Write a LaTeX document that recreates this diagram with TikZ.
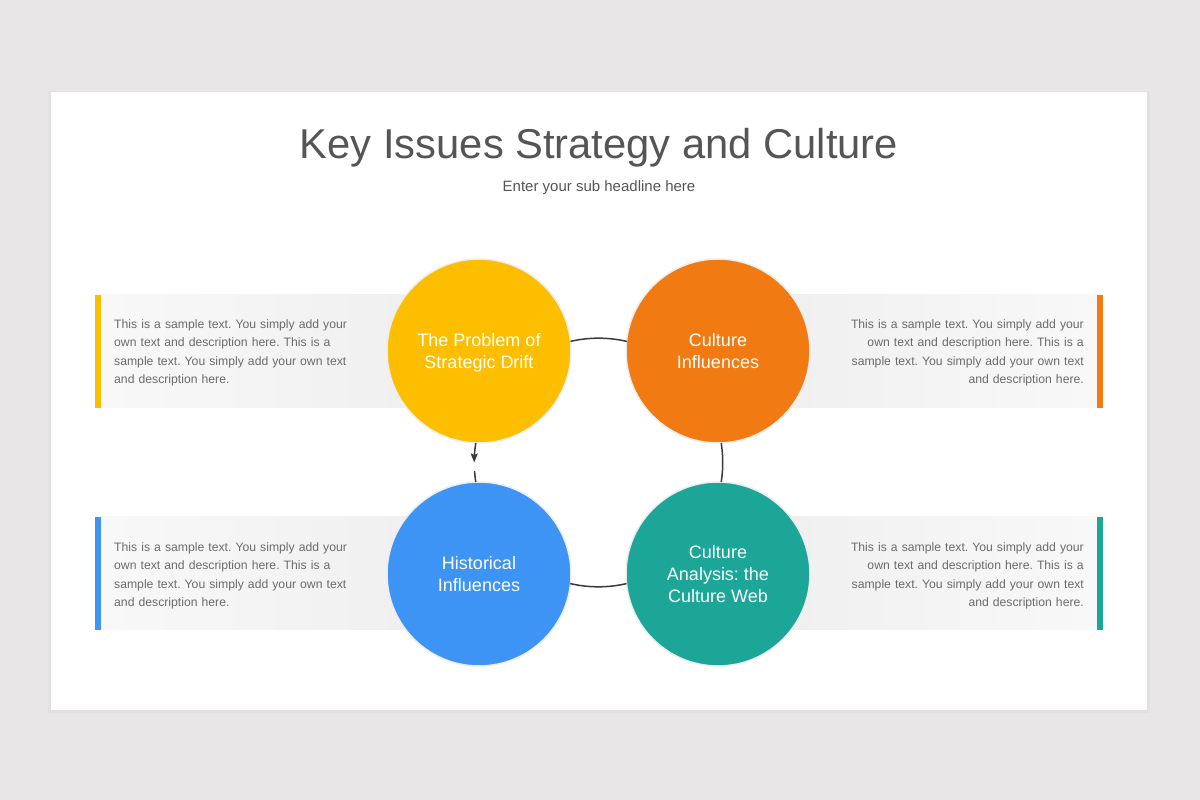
\documentclass[tikz,border=0pt]{standalone}
\usepackage{fontspec}
\setmainfont{Liberation Sans}
\frenchspacing
\usetikzlibrary{positioning,arrows.meta}
\definecolor{cbg}{HTML}{E8E6E7}
\definecolor{cpanel}{HTML}{EEEEEE}
\definecolor{ctitle}{HTML}{555555}
\definecolor{ctext}{HTML}{6B6B6B}
\definecolor{cline}{HTML}{3A3A3A}
\definecolor{cyellow}{HTML}{FDBE00}
\definecolor{corange}{HTML}{F27A12}
\definecolor{cblue}{HTML}{3D94F4}
\definecolor{cteal}{HTML}{1BA698}
\tikzset{
  bubble/.style={circle, minimum size=184pt, inner sep=0pt, outer sep=0pt,
    draw=black!7, line width=1.5pt, text=white, align=center, text depth=0pt,
    font=\fontsize{18}{22}\selectfont},
  desc/.style={text width=250pt, inner sep=0pt, text=ctext,
    font=\fontsize{12.2}{18.4}\selectfont},
  link/.style={draw=cline, line width=1.5pt},
}
\begin{document}
\begin{tikzpicture}[x=1pt,y=1pt]
  \useasboundingbox (0,0) rectangle (1200,800);
  \fill[cbg] (0,0) rectangle (1200,800);
  % card
  \fill[black,opacity=.025] (48,87) rectangle (1150,709);
  \fill[white] (51,90) rectangle (1147,708);
  % panels
  \shade[left color=cpanel!40!white, right color=cpanel] (100,392) rectangle (479,505);
  \shade[left color=cpanel!40!white, right color=cpanel] (100,170) rectangle (479,283);
  \shade[left color=cpanel, right color=cpanel!40!white] (718,392) rectangle (1097,505);
  \shade[left color=cpanel, right color=cpanel!40!white] (718,170) rectangle (1097,283);
  \fill[cyellow] (95,392) rectangle (101,505);
  \fill[cblue] (95,170) rectangle (101,283);
  \fill[corange] (1097,392) rectangle (1103,505);
  \fill[cteal] (1097,170) rectangle (1103,283);

  \node[font=\fontsize{41.7}{50}\selectfont, text=ctitle, anchor=base] (Title) at (599,641) {Key Issues Strategy and Culture};
  \node[font=\fontsize{15}{18}\selectfont, text=ctitle, anchor=base] (Sub) at (599,608) {Enter your sub headline here};

  \node[bubble, fill=cyellow] (Drift) at (479,449) {The Problem of\\Strategic Drift};
  \node[bubble, fill=corange, right=55pt of Drift] (Infl) {Culture\\Influences};
  \node[bubble, fill=cblue, below=39pt of Drift] (Hist) {Historical\\Influences};
  \node[bubble, fill=cteal, right=55pt of Hist] (Web) {Culture\\Analysis: the\\Culture Web};

  % ring pieces between the circles
  \draw[link] (Drift.6) arc[start angle=103, end angle=77, radius=125];
  \draw[link] (Infl.-88) arc[start angle=9, end angle=-9, radius=125];
  \draw[link] (Web.186) arc[start angle=-77, end angle=-103, radius=125];
  \draw[link, -{Stealth[length=9pt, width=7pt, inset=1.5pt]}] (Drift.-92) arc[start angle=171, end angle=180, radius=125];
  \draw[link] (Hist.92) arc[start angle=189, end angle=184, radius=125];

  \node[desc, align=left, anchor=north west] (DescDrift) at (114,480.6)
    {This is a sample text. You simply add your\\own text and description here. This is a\\sample text. You simply add your own text\\and description here.};
  \node[desc, align=right, anchor=north east] (DescInfl) at (1084,480.6)
    {This is a sample text. You simply add your\\own text and description here. This is a\\sample text. You simply add your own text\\and description here.};
  \node[desc, align=left, anchor=north west] (DescHist) at (114,257.6)
    {This is a sample text. You simply add your\\own text and description here. This is a\\sample text. You simply add your own text\\and description here.};
  \node[desc, align=right, anchor=north east] (DescWeb) at (1084,257.6)
    {This is a sample text. You simply add your\\own text and description here. This is a\\sample text. You simply add your own text\\and description here.};
\end{tikzpicture}
\end{document}
